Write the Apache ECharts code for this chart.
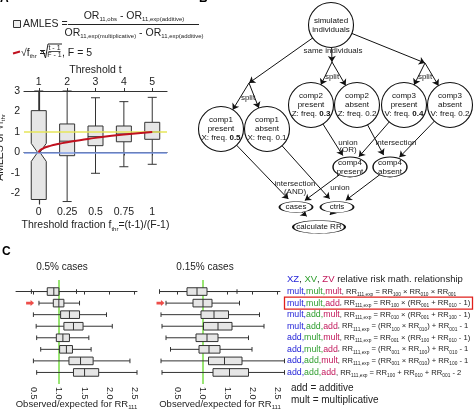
<!DOCTYPE html>
<html>
<head>
<meta charset="utf-8">
<script src="https://cdn.jsdelivr.net/npm/echarts@6/dist/echarts.min.js"></script>
<style>
html, body { margin: 0; padding: 0; background: #fff; }
#main { width: 474px; height: 412px; }
</style>
</head>
<body>
<div id="main"></div>
<script>
// ---------- panel A: AMLES by threshold ----------
var fracTicks = [0, 0.25, 0.5, 0.75, 1];
var thresholdTicks = ['1', '2', '3', '4', '5'];
var amlesTicks = [-2, -1, 0, 1, 2, 3];
var amlesLow = [-2.3, -2.4, -1.02, -0.7, -0.58];
var amlesQ1 = [-2.3, -0.16, 0.33, 0.52, 0.64];
var amlesMed = [0, 0.55, 0.77, 0.9, 1.0];
var amlesQ3 = [2.04, 1.39, 1.29, 1.29, 1.47];
var amlesHigh = [3, 3, 2.67, 2.48, 2.69];
// red curve
var curveFrac = [0, 0.01, 0.03, 0.06, 0.1, 0.15, 0.25, 0.4, 0.5, 0.75, 1];
var curveVal = [0, 0.1, 0.17, 0.25, 0.32, 0.39, 0.5, 0.63, 0.71, 0.87, 1];

// ---------- panel C: observed / expected RR111 ----------
var rowsXZ = ['mult', 'mult', 'mult', 'mult', 'add', 'add', 'add', 'add'];
var rowsXV = ['mult', 'mult', 'add', 'add', 'mult', 'mult', 'add', 'add'];
var rowsZV = ['mult', 'add', 'mult', 'add', 'mult', 'add', 'mult', 'add'];
var rowsFormula = [
  'RR{s|111,exp} = RR{s|100} × RR{s|010} × RR{s|001}',
  'RR{s|111,exp} = RR{s|100} × (RR{s|001} + RR{s|010} - 1)',
  'RR{s|111,exp} = RR{s|010} × (RR{s|001} + RR{s|100} - 1)',
  'RR{s|111,exp} = (RR{s|100} × RR{s|010}) + RR{s|001} - 1',
  'RR{s|111,exp} = RR{s|001} × (RR{s|100} + RR{s|010} - 1)',
  'RR{s|111,exp} = (RR{s|001} × RR{s|100}) + RR{s|010} - 1',
  'RR{s|111,exp} = (RR{s|001} × RR{s|010}) + RR{s|100} - 1',
  'RR{s|111,exp} = RR{s|100} + RR{s|010} + RR{s|001} - 2'
];
var rowIdx = [0, 1, 2, 3, 4, 5, 6, 7];
var rrTicks = [0.5, 1, 1.5, 2, 2.5];
var refRatio = 1;
var markedRow = 1;
// 0.5% cases
var c05Low = [0.455, 0.605, 0.495, 0.55, 0.56, 0.64, 0.495, 0.56];
var c05Q1 = [0.77, 0.89, 1.035, 1.10, 0.95, 1.015, 1.2, 1.29];
var c05Med = [0.90, 1.0, 1.21, 1.29, 1.08, 1.15, 1.43, 1.51];
var c05Q3 = [1.0, 1.10, 1.41, 1.48, 1.21, 1.27, 1.68, 1.79];
var c05High = [1.35, 1.41, 1.945, 2.06, 1.595, 1.64, 2.41, 2.55];
// 0.15% cases
var c015Low = [0.14, 0.27, 0.17, 0.19, 0.27, 0.36, 0.17, 0.19];
var c015Q1 = [0.69, 0.81, 0.97, 1.02, 0.87, 0.93, 1.12, 1.21];
var c015Med = [0.89, 1.01, 1.23, 1.31, 1.09, 1.13, 1.44, 1.54];
var c015Q3 = [1.09, 1.19, 1.52, 1.59, 1.31, 1.35, 1.79, 1.92];
var c015High = [1.69, 1.74, 2.14, 2.23, 1.92, 1.99, 2.64, 2.64];

// ---------- panel B: simulation flow ----------
var flowNodes = ['sim', 's1', 's2', 's3', 'c1p', 'c1a', 'c2p', 'c2a', 'c3p', 'c3a', 'c4p', 'c4a', 'cases', 'ctrls', 'calc'];
var flowLabels = [
  'simulated\nindividuals', '', '', '',
  'comp1\npresent\nX: freq. {bd|0.5}', 'comp1\nabsent\nX: freq. 0.1',
  'comp2\npresent\nZ: freq. {bd|0.3}', 'comp2\nabsent\nZ: freq. 0.2',
  'comp3\npresent\nV: freq. {bd|0.4}', 'comp3\nabsent\nV: freq. 0.2',
  'comp4\npresent', 'comp4\nabsent', 'cases', 'ctrls', 'calculate RR'
];
var flowEdges = [
  ['sim', 's1'], ['sim', 's2'], ['sim', 's3'],
  ['s1', 'c1p'], ['s1', 'c1a'], ['s2', 'c2p'], ['s2', 'c2a'], ['s3', 'c3p'], ['s3', 'c3a'],
  ['c2p', 'c4p'], ['c3p', 'c4p'], ['c2a', 'c4a'], ['c3a', 'c4a'],
  ['c1p', 'cases'], ['c4p', 'cases'], ['c1a', 'ctrls'], ['c4a', 'ctrls'],
  ['cases', 'calc'], ['ctrls', 'calc']
];
// diagram layout (pixel x, y, width, height)
var flowLayout = {
  sim: [331, 25, 45, 45], s1: [249, 83, 0.1, 0.1], s2: [332, 62, 0.1, 0.1], s3: [425, 63, 0.1, 0.1],
  c1p: [221, 129, 45, 45], c1a: [267, 129, 45, 45],
  c2p: [311, 105, 45, 45], c2a: [357, 105, 45, 45],
  c3p: [404, 105, 45, 45], c3a: [450, 105, 45, 45],
  c4p: [350, 167, 34, 20], c4a: [390, 167, 34, 20],
  cases: [296, 207, 33, 11], ctrls: [337, 207, 33, 11], calc: [319, 227, 52, 13]
};

var ff = '"Liberation Sans", Arial, sans-serif';
var ink = '#222';
var boxFill = '#e6e6e6';
var notchedBox = 0;

function boxV(params, api) {
  var x = api.value(0);
  var lo = api.coord([x, api.value(1)]);
  var q1 = api.coord([x, api.value(2)]);
  var md = api.coord([x, api.value(3)]);
  var q3 = api.coord([x, api.value(4)]);
  var hi = api.coord([x, api.value(5)]);
  var cx = lo[0], hw = 7.5, cw = 4.5;
  var st = { stroke: '#333', lineWidth: 1, fill: null };
  var kids = [
    { type: 'line', shape: { x1: cx, y1: hi[1], x2: cx, y2: q3[1] }, style: st },
    { type: 'line', shape: { x1: cx, y1: q1[1], x2: cx, y2: lo[1] }, style: st },
    { type: 'line', shape: { x1: cx - cw, y1: hi[1], x2: cx + cw, y2: hi[1] }, style: st },
    { type: 'line', shape: { x1: cx - cw, y1: lo[1], x2: cx + cw, y2: lo[1] }, style: st }
  ];
  if (params.dataIndex === notchedBox) {
    var nh = 9, nw = 1.2, m = md[1];
    kids.push({ type: 'polygon', shape: { points: [
      [cx - hw, q3[1]], [cx + hw, q3[1]], [cx + hw, m - nh], [cx + nw, m], [cx + hw, m + nh],
      [cx + hw, q1[1]], [cx - hw, q1[1]], [cx - hw, m + nh], [cx - nw, m], [cx - hw, m - nh]
    ] }, style: { fill: boxFill, stroke: '#333', lineWidth: 1 } });
  } else {
    kids.push({ type: 'rect', shape: { x: cx - hw, y: q3[1], width: 2 * hw, height: q1[1] - q3[1] },
      style: { fill: boxFill, stroke: '#333', lineWidth: 1 } });
    kids.push({ type: 'line', shape: { x1: cx - hw, y1: md[1], x2: cx + hw, y2: md[1] }, style: st });
  }
  return { type: 'group', children: kids };
}

function boxH(params, api) {
  var r = api.value(0);
  var lo = api.coord([api.value(1), r]);
  var q1 = api.coord([api.value(2), r]);
  var md = api.coord([api.value(3), r]);
  var q3 = api.coord([api.value(4), r]);
  var hi = api.coord([api.value(5), r]);
  var cy = lo[1], hh = 3.8, ch = 2.3;
  var st = { stroke: '#333', lineWidth: 1, fill: null };
  return { type: 'group', children: [
    { type: 'line', shape: { x1: lo[0], y1: cy, x2: q1[0], y2: cy }, style: st },
    { type: 'line', shape: { x1: q3[0], y1: cy, x2: hi[0], y2: cy }, style: st },
    { type: 'line', shape: { x1: lo[0], y1: cy - ch, x2: lo[0], y2: cy + ch }, style: st },
    { type: 'line', shape: { x1: hi[0], y1: cy - ch, x2: hi[0], y2: cy + ch }, style: st },
    { type: 'rect', shape: { x: q1[0], y: cy - hh, width: q3[0] - q1[0], height: 2 * hh },
      style: { fill: boxFill, stroke: '#333', lineWidth: 1 } },
    { type: 'line', shape: { x1: md[0], y1: cy - hh, x2: md[0], y2: cy + hh }, style: st }
  ] };
}

function zip6(a, b, c, d, e, f) {
  return a.map(function (v, i) { return [v, b[i], c[i], d[i], e[i], f[i]]; });
}

var subRich = { s: { fontSize: 6, lineHeight: 8, verticalAlign: 'bottom', fontFamily: ff, color: ink } };

function rrXAxis(grid) {
  return {
    type: 'value', gridIndex: grid, min: 0.15, max: 2.55,
    axisLine: { show: true, lineStyle: { color: '#333', width: 1 } },
    axisTick: { show: true, customValues: rrTicks, length: 3, lineStyle: { color: '#333' } },
    axisLabel: { customValues: rrTicks, rotate: -90, margin: 3, fontSize: 9, color: ink, fontFamily: ff,
      formatter: function (v) { return v.toFixed(1); } },
    splitLine: { show: false }
  };
}

var arrowPath = 'path://M0,2L5,2L5,0L9,3.5L5,7L5,5L0,5Z';

var option = {
  animation: false,
  textStyle: { fontFamily: ff },
  grid: [
    { left: 24, top: 91, width: 143, height: 113, containLabel: false, outerBoundsMode: 'none' },
    { left: 16, top: 280, width: 121, height: 104, containLabel: false, outerBoundsMode: 'none' },
    { left: 160, top: 280, width: 120, height: 104, containLabel: false, outerBoundsMode: 'none' },
    { left: 0, top: 0, width: 474, height: 412, containLabel: false, outerBoundsMode: 'none' }
  ],
  xAxis: [
    {
      type: 'value', gridIndex: 0, min: -0.13, max: 1.13, position: 'bottom',
      axisLine: { show: true, lineStyle: { color: '#333', width: 1.2 } },
      axisTick: { show: true, customValues: fracTicks, length: 3, lineStyle: { color: '#333' } },
      axisLabel: { customValues: fracTicks, margin: 3, fontSize: 10.5, color: ink, fontFamily: ff,
        formatter: function (v) { return String(v); } },
      splitLine: { show: false },
      name: 'Threshold fraction f{s|thr}=(t-1)/(F-1)', nameLocation: 'middle', nameGap: 14,
      nameTextStyle: { fontSize: 10.5, color: ink, fontFamily: ff, lineHeight: 13, rich: subRich }
    },
    {
      type: 'value', gridIndex: 0, min: -0.13, max: 1.13, position: 'top',
      axisLine: { show: true, lineStyle: { color: '#333', width: 1.2 } },
      axisTick: { show: true, customValues: fracTicks, length: 3, lineStyle: { color: '#333' } },
      axisLabel: { customValues: fracTicks, margin: 3, fontSize: 10.5, color: ink, fontFamily: ff,
        formatter: function (v) { return thresholdTicks[fracTicks.indexOf(v)]; } },
      splitLine: { show: false },
      name: 'Threshold t', nameLocation: 'middle', nameGap: 15,
      nameTextStyle: { fontSize: 10.5, color: ink, fontFamily: ff }
    },
    rrXAxis(1),
    rrXAxis(2),
    { type: 'value', gridIndex: 3, min: 0, max: 474, show: false }
  ],
  yAxis: [
    {
      type: 'value', gridIndex: 0, min: -2.52, max: 3,
      axisLine: { show: true, lineStyle: { color: '#333', width: 1.2 } },
      axisTick: { show: true, customValues: amlesTicks, length: 3, lineStyle: { color: '#333' } },
      axisLabel: { customValues: amlesTicks, margin: 4, fontSize: 10.5, color: ink, fontFamily: ff },
      splitLine: { show: false },
      name: 'AMLES or √f{s|thr}', nameLocation: 'middle', nameGap: 15, nameRotate: 90,
      nameTextStyle: { fontSize: 10.5, color: ink, fontFamily: ff, lineHeight: 13, rich: subRich }
    },
    { type: 'value', gridIndex: 1, min: -1, max: 8, inverse: true, show: false },
    {
      type: 'value', gridIndex: 2, min: -1, max: 8, inverse: true, position: 'right',
      axisLine: { show: false }, axisTick: { show: false }, splitLine: { show: false },
      axisLabel: {
        customValues: rowIdx, margin: 7, fontSize: 7.6, color: ink, fontFamily: ff, lineHeight: 11,
        formatter: function (v) {
          var i = Math.round(v);
          return '{b|' + rowsXZ[i] + ',}{g|' + rowsXV[i] + ',}{r|' + rowsZV[i] + '}, ' + rowsFormula[i];
        },
        rich: {
          b: { color: '#2424d8', fontSize: 8.8, lineHeight: 11, fontFamily: ff },
          g: { color: '#2e9e2e', fontSize: 8.8, lineHeight: 11, fontFamily: ff },
          r: { color: '#c2185b', fontSize: 8.8, lineHeight: 11, fontFamily: ff },
          s: { color: ink, fontSize: 4.8, lineHeight: 7, verticalAlign: 'bottom', fontFamily: ff }
        }
      }
    },
    { type: 'value', gridIndex: 3, min: 0, max: 412, inverse: true, show: false }
  ],
  series: [
    {
      type: 'custom', xAxisIndex: 0, yAxisIndex: 0, z: 2, clip: false,
      renderItem: boxV,
      data: zip6(fracTicks, amlesLow, amlesQ1, amlesMed, amlesQ3, amlesHigh)
    },
    {
      type: 'line', xAxisIndex: 0, yAxisIndex: 0, z: 6, smooth: true, showSymbol: false,
      lineStyle: { color: '#c0111f', width: 2 },
      data: curveFrac.map(function (f, i) { return [f, curveVal[i]]; }),
      markLine: {
        silent: true, symbol: ['none', 'none'], label: { show: false },
        data: [
          { yAxis: 0, lineStyle: { color: '#7f9be6', width: 1.5, type: 'solid' } },
          { yAxis: 1, lineStyle: { color: '#e6e65a', width: 1.5, type: 'solid' } }
        ]
      }
    },
    {
      type: 'custom', xAxisIndex: 2, yAxisIndex: 1, z: 3, clip: false,
      renderItem: boxH,
      data: zip6(rowIdx, c05Low, c05Q1, c05Med, c05Q3, c05High)
    },
    {
      type: 'custom', xAxisIndex: 3, yAxisIndex: 2, z: 3, clip: false,
      renderItem: boxH,
      data: zip6(rowIdx, c015Low, c015Q1, c015Med, c015Q3, c015High)
    },
    {
      type: 'scatter', xAxisIndex: 2, yAxisIndex: 1, z: 4, clip: false,
      symbol: arrowPath, symbolSize: [8, 6], itemStyle: { color: '#e8201c' },
      data: [[0.43, markedRow]],
      markLine: {
        silent: true, symbol: ['none', 'none'], label: { show: false }, z: 2,
        lineStyle: { color: '#77dd44', width: 1.5, type: 'solid' },
        data: [{ xAxis: refRatio }]
      }
    },
    {
      type: 'scatter', xAxisIndex: 3, yAxisIndex: 2, z: 4, clip: false,
      symbol: arrowPath, symbolSize: [8, 6], itemStyle: { color: '#e8201c' },
      data: [[0.16, markedRow]],
      markLine: {
        silent: true, symbol: ['none', 'none'], label: { show: false }, z: 2,
        lineStyle: { color: '#77dd44', width: 1.5, type: 'solid' },
        data: [{ xAxis: refRatio }]
      }
    },
    {
      type: 'graph', coordinateSystem: 'cartesian2d', xAxisIndex: 4, yAxisIndex: 3, layout: 'none',
      symbol: 'circle', edgeSymbol: ['none', 'arrow'], edgeSymbolSize: [0, 6], z: 4,
      itemStyle: { color: '#fff', borderColor: '#111', borderWidth: 1.1 },
      lineStyle: { color: '#111', width: 1, opacity: 1, curveness: 0 },
      label: { show: true, position: 'inside', color: '#111', fontSize: 8, lineHeight: 9, fontFamily: ff,
        rich: { bd: { fontWeight: 'bold', fontSize: 8, lineHeight: 9, color: '#111', fontFamily: ff } } },
      emphasis: { disabled: true },
      data: flowNodes.map(function (n, i) {
        var p = flowLayout[n];
        return { name: n, value: [p[0], p[1]], symbolSize: [p[2], p[3]],
          label: { formatter: flowLabels[i] } };
      }),
      links: flowEdges.map(function (e) { return { source: e[0], target: e[1] }; })
    }
  ]
};

var chart = echarts.init(document.getElementById('main'), null, { renderer: 'canvas' });
chart.setOption(option);

function txt(x, y, text, size, align, extra) {
  var st = { text: text, x: x, y: y, fontSize: size, fontFamily: ff, fill: ink,
    align: align || 'center', textAlign: align || 'center', verticalAlign: 'middle', textVerticalAlign: 'middle' };
  if (extra) { for (var k in extra) st[k] = extra[k]; }
  return { type: 'text', silent: true, style: st };
}
var gSub = { s: { fontSize: 6, lineHeight: 8, verticalAlign: 'bottom', fill: ink, fontFamily: ff } };

var rowY = chart.convertToPixel({ yAxisIndex: 2 }, markedRow);
// centres of the two panel C x axes, for their titles
var c1Mid = (chart.convertToPixel({ xAxisIndex: 2 }, 0.15) + chart.convertToPixel({ xAxisIndex: 2 }, 2.55)) / 2;
var c2Mid = (chart.convertToPixel({ xAxisIndex: 3 }, 0.15) + chart.convertToPixel({ xAxisIndex: 3 }, 2.55)) / 2;

chart.setOption({
  graphic: [
    // panel letters
    txt(0, -1, 'A', 12, 'left', { fontWeight: 'bold', fill: '#000' }),
    txt(199, -1, 'B', 12, 'left', { fontWeight: 'bold', fill: '#000' }),
    txt(2, 252, 'C', 12, 'left', { fontWeight: 'bold', fill: '#000' }),
    // AMLES formula
    { type: 'rect', silent: true, shape: { x: 13.5, y: 20.5, width: 7, height: 7 },
      style: { fill: '#eee', stroke: '#333', lineWidth: 1 } },
    txt(23, 24, 'AMLES =', 10.5, 'left'),
    { type: 'line', silent: true, shape: { x1: 68, y1: 24.5, x2: 199, y2: 24.5 }, style: { stroke: ink, lineWidth: 1 } },
    txt(134, 16, 'OR{s|11,obs} - OR{s|11,exp(additive)}', 10.5, 'center', { rich: gSub, lineHeight: 13 }),
    txt(134, 33, 'OR{s|11,exp(multiplicative)} - OR{s|11,exp(additive)}', 10.5, 'center', { rich: gSub, lineHeight: 13 }),
    // sqrt curve legend
    { type: 'line', silent: true, shape: { x1: 13, y1: 53.5, x2: 20, y2: 51.5 }, style: { stroke: '#c0111f', lineWidth: 2 } },
    txt(21, 53, '√f{s|thr} =', 10.5, 'left', { rich: gSub, lineHeight: 13 }),
    { type: 'polyline', silent: true, shape: { points: [[41, 52], [43, 51], [45.5, 58], [48, 44], [62, 44]] },
      style: { stroke: ink, lineWidth: 1, fill: null } },
    txt(54.5, 48, 't - 1', 7),
    { type: 'line', silent: true, shape: { x1: 48.5, y1: 51.5, x2: 60.5, y2: 51.5 }, style: { stroke: ink, lineWidth: 0.8 } },
    txt(54.5, 55.5, 'F - 1', 7),
    txt(62, 53, ', F = 5', 10.5, 'left'),
    // panel B edge labels
    txt(333, 51, 'same individuals', 8),
    txt(248, 98, 'split', 8),
    txt(332, 77, 'split', 8),
    txt(425, 77, 'split', 8),
    txt(348, 143, 'union', 8),
    txt(348, 150, '(OR)', 8),
    txt(396, 143, 'intersection', 8),
    txt(295, 184, 'intersection', 8),
    txt(295, 192, '(AND)', 8),
    txt(340, 188, 'union', 8),
    // panel C titles and key
    txt(62, 267, '0.5% cases', 10),
    txt(205, 267, '0.15% cases', 10),
    txt(c1Mid, 404, 'Observed/expected for RR{s|111}', 9.5, 'center', { rich: gSub, lineHeight: 12 }),
    txt(c2Mid, 404, 'Observed/expected for RR{s|111}', 9.5, 'center', { rich: gSub, lineHeight: 12 }),
    txt(287, 279, '{b|XZ}, {g|XV}, {r|ZV} relative risk math. relationship', 9.5, 'left', {
      rich: {
        b: { fill: '#2424d8', fontSize: 9.5, fontFamily: ff },
        g: { fill: '#2e9e2e', fontSize: 9.5, fontFamily: ff },
        r: { fill: '#c2185b', fontSize: 9.5, fontFamily: ff }
      }
    }),
    txt(291, 388, 'add = additive', 10, 'left'),
    txt(291, 400, 'mult = multiplicative', 10, 'left'),
    { type: 'rect', silent: true, z: 10, shape: { x: 284.5, y: rowY - 6, width: 188, height: 12 },
      style: { fill: null, stroke: '#e0201c', lineWidth: 1.3 } }
  ]
});
</script>
</body>
</html>
